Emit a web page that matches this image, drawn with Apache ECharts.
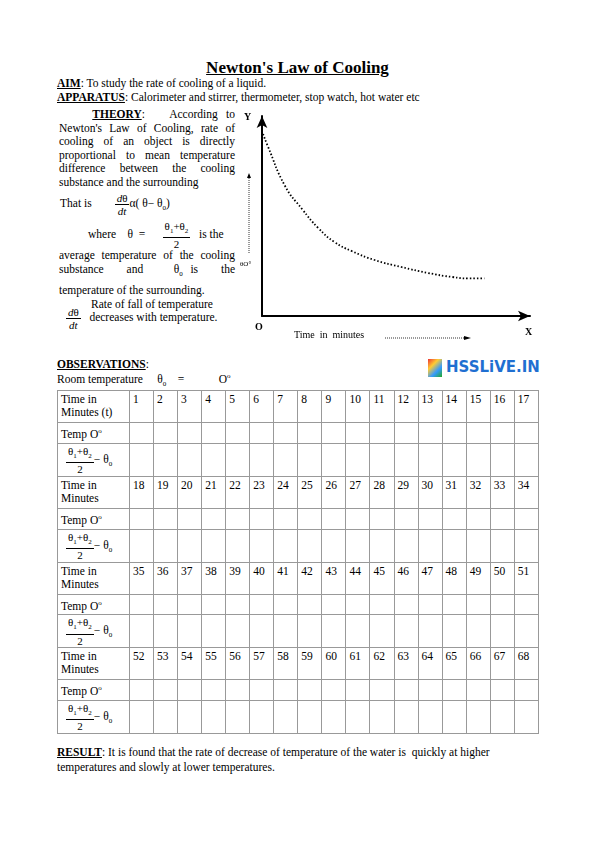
<!DOCTYPE html>
<html><head><meta charset="utf-8">
<script src="https://cdn.jsdelivr.net/npm/echarts@6/dist/echarts.min.js"></script>
<style>
body{margin:0;width:595px;height:842px;background:#fff;font-family:"Liberation Serif","DejaVu Serif",serif;font-size:11.5px;color:#000;position:relative;}
.a{position:absolute;white-space:nowrap;}
.fr{display:inline-block;vertical-align:middle;text-align:center;font-size:11px;line-height:12px;}
.fr .n{border-bottom:1px solid #000;padding:0 2px;}
.just{text-align:justify;text-align-last:justify;width:176px;}
sub,sup{font-size:7px;}
table{border-collapse:collapse;position:absolute;left:57px;top:390px;width:482px;table-layout:fixed;font-size:11.5px;}
td{border:1px solid #999;vertical-align:top;padding:2px 3px;line-height:13px;}
</style></head><body>
<div class="a" style="left:0;width:595px;top:58px;text-align:center;font-size:17px;font-weight:bold;text-decoration:underline;">Newton's Law of Cooling</div>
<div class="a" style="left:57px;top:77px;"><b><u>AIM</u></b>: To study the rate of cooling of a liquid.</div>
<div class="a" style="left:57px;top:91px;"><b><u>APPARATUS</u></b>: Calorimeter and stirrer, thermometer, stop watch, hot water etc</div>
<div class="a" style="left:59px;top:108px;line-height:13.6px;">
<div class="just">&nbsp;&nbsp;&nbsp;&nbsp;<b><u>THEORY</u></b>: &nbsp; According to</div>
<div class="just">Newton's Law of Cooling, rate of</div>
<div class="just">cooling of an object is directly</div>
<div class="just">proportional to mean temperature</div>
<div class="just">difference between the cooling</div>
<div>substance and the surrounding</div>
</div>
<div class="a" style="left:60px;top:192px;">That is &nbsp;&nbsp;&nbsp;&nbsp;&nbsp;&nbsp;&nbsp;<span class="fr"><div class="n"><i>d</i>θ</div><div><i>dt</i></div></span>α( θ− θ<sub>0</sub>)</div>
<div class="a" style="left:88px;top:220px;">where &nbsp;&nbsp;&nbsp;θ &nbsp;= &nbsp;&nbsp;&nbsp;&nbsp;&nbsp;<span class="fr"><div class="n">θ<sub>1</sub>+θ<sub>2</sub></div><div>2</div></span> &nbsp;&nbsp;is the</div>
<div class="a" style="left:59px;top:248px;line-height:14px;">
<div class="just">average temperature of the cooling</div>
<div class="just">substance &nbsp; and &nbsp;&nbsp; θ<sub>0</sub> is &nbsp; the</div>
<div style="margin-top:2px">temperature of the surrounding.</div>
<div style="padding-left:32px">Rate of fall of temperature</div>
</div>
<div class="a" style="left:66px;top:306px;"><span class="fr"><div class="n"><i>d</i>θ</div><div><i>dt</i></div></span> &nbsp;&nbsp;decreases with temperature.</div>

<div id="c" class="a" style="left:235px;top:100px;width:310px;height:250px;"></div>

<div class="a" style="left:57px;top:358px;"><b><u>OBSERVATIONS</u></b>:</div>
<div class="a" style="left:57px;top:372px;">Room temperature &nbsp;&nbsp;&nbsp;&nbsp;θ<sub>0</sub> &nbsp;&nbsp;&nbsp;= &nbsp;&nbsp;&nbsp;&nbsp;&nbsp;&nbsp;&nbsp;&nbsp;&nbsp;&nbsp;&nbsp;O<sup>o</sup></div>
<div class="a" style="left:428px;top:359px;width:14px;height:18px;background:linear-gradient(135deg,#e33,#fc3,#39f,#2a2);"></div>
<div class="a" style="left:446px;top:358px;font-family:'DejaVu Sans',sans-serif;font-weight:bold;font-size:15px;color:#1f6fd1;">HSSLiVE.IN</div>
<table id="t"></table>
<div class="a" style="left:57px;top:745px;line-height:15px;"><b><u>RESULT</u></b>: It is found that the rate of decrease of temperature of the water is &nbsp;quickly at higher<br>temperatures and slowly at lower temperatures.</div>
<script>
const timeT=[0.4,2.2,8.6,15,21,27,33.6,42,52,62,71,77,83];
const tempT=[91,84.8,65,53.4,44,37,32.4,28,24.5,21.5,19.5,18.8,18.8];
const groups=[[1,17],[18,34],[35,51],[52,68]];
const rowLabels=['Time in Minutes (t)','Time in Minutes','Time in Minutes','Time in Minutes'];
const frac='<div style="padding-left:8px"><span class="fr"><div class="n">θ<sub>1</sub>+θ<sub>2</sub></div><div>2</div></span>− θ<sub>0</sub></div>';
let h='<colgroup><col style="width:72px">'+'<col>'.repeat(17)+'</colgroup>';
groups.forEach((g,i)=>{
 h+='<tr style="height:32px"><td style="white-space:normal">'+rowLabels[i]+'</td>';
 for(let k=g[0];k<=g[1];k++)h+='<td>'+k+'</td>';
 h+='</tr><tr style="height:20px"><td>Temp O<sup>o</sup></td>'+'<td></td>'.repeat(17)+'</tr>';
 h+='<tr style="height:33px"><td style="vertical-align:middle;padding:0">'+frac+'</td>'+'<td></td>'.repeat(17)+'</tr>';
});
document.getElementById('t').innerHTML=h;
const ch=echarts.init(document.getElementById('c'));
ch.setOption({animation:false,
grid:{left:27,top:16,width:268,height:200},
xAxis:{type:'value',min:0,max:100,splitLine:{show:false},axisTick:{show:false},axisLabel:{show:false},
 axisLine:{lineStyle:{color:'#000',width:2},symbol:['none','arrow'],symbolSize:[8,12]}},
yAxis:{type:'value',min:0,max:100,splitLine:{show:false},axisTick:{show:false},axisLabel:{show:false},
 axisLine:{lineStyle:{color:'#000',width:2},symbol:['none','arrow'],symbolSize:[8,12]}},
series:[{type:'line',smooth:true,showSymbol:false,data:timeT.map((t,i)=>[t,tempT[i]]),
 lineStyle:{color:'#000',width:1.8,type:[1.5,2]}}],
graphic:[
 {type:'text',left:9,top:12,style:{text:'Y',font:'bold 10px "Liberation Serif"'}},
 {type:'text',left:20,top:222,style:{text:'O',font:'bold 10px "Liberation Serif"'}},
 {type:'text',left:290,top:227,style:{text:'X',font:'bold 10px "Liberation Serif"'}},
 {type:'text',left:5,top:161,style:{text:'θO°',font:'7px "Liberation Serif"'}},
 {type:'line',shape:{x1:14,y1:153,x2:14,y2:78},style:{stroke:'#000',lineDash:[1,1],lineWidth:0.8}},
 {type:'polygon',shape:{points:[[12,78],[16,78],[14,73]]},style:{fill:'#000'}},
 {type:'text',left:59,top:230,style:{text:'Time  in  minutes',font:'10px "Liberation Serif"'}},
 {type:'line',shape:{x1:150,y1:238,x2:230,y2:238},style:{stroke:'#000',lineDash:[1,1],lineWidth:0.8}},
 {type:'polygon',shape:{points:[[229,236],[229,240],[236,238]]},style:{fill:'#000'}}
]});
</script></body></html>
